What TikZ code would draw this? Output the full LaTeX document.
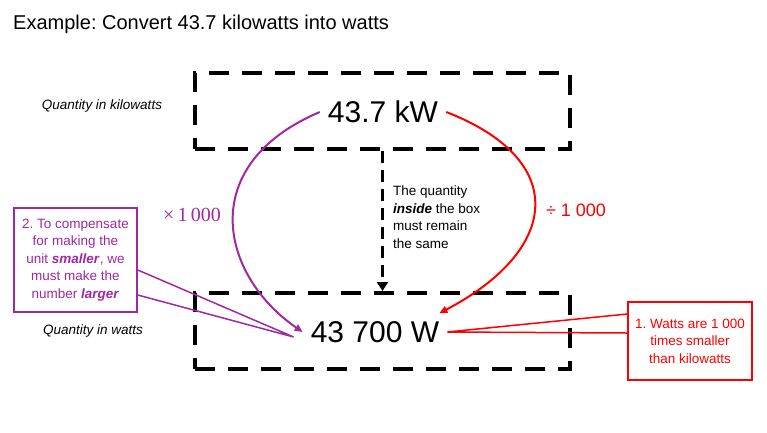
\documentclass[tikz,border=0pt]{standalone}
\usepackage{fontspec}
\setmainfont{Liberation Sans}
\newfontfamily\symserif{Liberation Serif}
\usepackage{tikz}
\usetikzlibrary{arrows.meta}
\usetikzlibrary{shapes}
\frenchspacing

\definecolor{calloutpurple}{RGB}{160,40,160}
\definecolor{calloutred}{RGB}{255,0,0}

\tikzset{
    unitbox/.style={draw, line width=4pt, dash pattern=on 20pt off 13pt, minimum width=375pt, minimum height=76pt},
    bignum/.style={font=\fontsize{30}{36}\selectfont, inner sep=8pt},
    qlabel/.style={font=\fontsize{13.5}{17.5}\selectfont\itshape},
    note/.style={font=\fontsize{13.5}{17.5}\selectfont, align=left, inner sep=0pt},
    callout/.style={draw, fill=white, line width=1.5pt, align=center, inner sep=0pt, font=\fontsize{13.5}{17.5}\selectfont},
    purpleline/.style={draw=calloutpurple, line width=2pt, -{Triangle[length=8pt,width=7pt]}},
    redline/.style={draw=calloutred, line width=2pt, -{Triangle[length=8pt,width=7pt]}},
    keeparrow/.style={line width=3pt, dash pattern=on 12pt off 7pt, -{Triangle[length=9pt,width=11pt]}}
}

\begin{document}
\begin{tikzpicture}[x=1pt, y=-1pt]
        \useasboundingbox (0,0) rectangle (767,432);

        \draw (13,24) node[anchor=west, inner sep=0pt, font=\fontsize{20}{24}\selectfont] (title) {Example: Convert 43.7 kilowatts into watts};

        \draw (382.5,111) node[unitbox] (kwbox) {};
        \draw (382.5,331) node[unitbox] (wbox) {};

        \draw (383,112) node[bignum] (kw) {43.7 kW};
        \draw (375,332) node[bignum] (w) {43 700 W};

        \draw (102,106) node[qlabel] (kwlabel) {Quantity in kilowatts};
        \draw (93,331) node[qlabel] (wlabel) {Quantity in watts};

        \draw[keeparrow] (kwbox.south) -- (wbox.north);
        \draw (393,217) node[note, anchor=west] (same) {The quantity\\\textbf{\textit{inside}} the box\\must remain\\the same};

        \draw[purpleline] (kw.west) .. controls (195,165) and (220,275) .. (w.west);
        \draw[redline] (kw.east) .. controls (570,160) and (560,250) .. ([xshift=-8pt]w.north east);

        \draw (192,215) node[text=calloutpurple, font=\fontsize{20}{24}\symserif] (times) {×\,1\,000};
        \draw (576,210) node[text=calloutred, font=\fontsize{18}{22}\selectfont] (divide) {÷ 1 000};

        % callouts
        \draw (75.5,260) node[callout, draw=calloutpurple, text=calloutpurple, minimum width=123pt, minimum height=104pt] (smaller) {2. To compensate\\for making the\\unit \textbf{\textit{smaller}}, we\\must make the\\number \textbf{\textit{larger}}};
        \coordinate (ptip) at ([shift={(-9pt,-5pt)}]w.west);
        \draw[calloutpurple, line width=1.5pt] ([yshift=-10pt]smaller.east) -- (ptip) -- ([yshift=-35pt]smaller.east);

        \draw (690,341) node[callout, draw=calloutred, text=calloutred, minimum width=124pt, minimum height=78pt] (watts) {1. Watts are 1 000\\times smaller\\than kilowatts};
        \draw[calloutred, line width=1.5pt] ([yshift=27pt]watts.west) -- (w.east) -- ([yshift=8pt]watts.west);
\end{tikzpicture}
\end{document}
